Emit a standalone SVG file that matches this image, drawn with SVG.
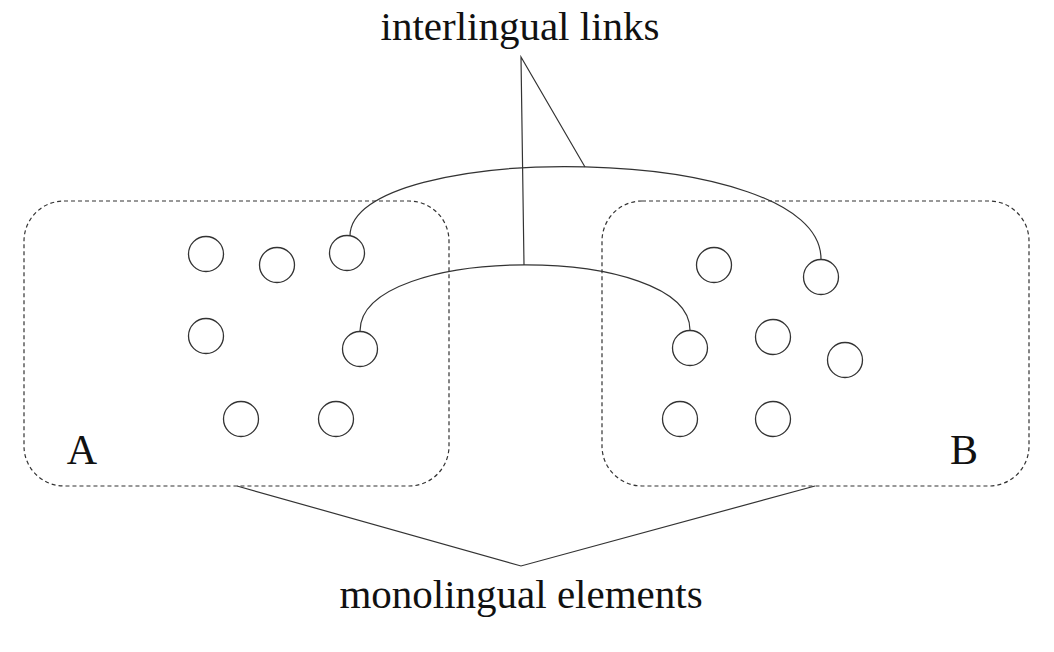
<svg xmlns="http://www.w3.org/2000/svg" width="1054" height="652" viewBox="0 0 1054 652">
<style>
.box{fill:none;stroke:#333;stroke-width:1.2;stroke-dasharray:4,3}
.n{fill:#fff;stroke:#333;stroke-width:1.3}
.l{fill:none;stroke:#333;stroke-width:1.2}
text{font-family:"Liberation Serif",serif;fill:#111}
</style>
<rect width="1054" height="652" fill="#fff"/>
<g id="boxA"><rect class="box" x="24" y="201" width="425" height="285" rx="40"/><text x="82" y="464" font-size="42" text-anchor="middle">A</text></g>
<g id="boxB"><rect class="box" x="602" y="201" width="427" height="285" rx="40"/><text x="964" y="464" font-size="42" text-anchor="middle">B</text></g>
<g id="connectors">
<path class="l" d="M350,236 C350,140 821,140 821,259"/>
<path class="l" d="M360,331 C360,243 690,243 690,330"/>
<path class="l" d="M585,167 L521,57 L524,265"/>
<path class="l" d="M237,486 L521,566 L815,486"/>
</g>
<g id="nodesA">
<circle class="n" cx="206" cy="254" r="17.5"/><circle class="n" cx="277" cy="265" r="17.5"/><circle class="n" cx="347" cy="253" r="17.5"/><circle class="n" cx="206" cy="336" r="17.5"/><circle class="n" cx="360" cy="349" r="17.5"/><circle class="n" cx="241" cy="419" r="17.5"/><circle class="n" cx="336" cy="419" r="17.5"/>
</g>
<g id="nodesB">
<circle class="n" cx="714" cy="265" r="17.5"/><circle class="n" cx="821" cy="277" r="17.5"/><circle class="n" cx="690" cy="348" r="17.5"/><circle class="n" cx="773" cy="337" r="17.5"/><circle class="n" cx="845" cy="360" r="17.5"/><circle class="n" cx="680" cy="419" r="17.5"/><circle class="n" cx="773" cy="419" r="17.5"/>
</g>
<g id="label-top"><text x="520" y="40" font-size="41" text-anchor="middle">interlingual links</text></g>
<g id="label-bottom"><text x="521" y="608" font-size="41" text-anchor="middle">monolingual elements</text></g>
</svg>
